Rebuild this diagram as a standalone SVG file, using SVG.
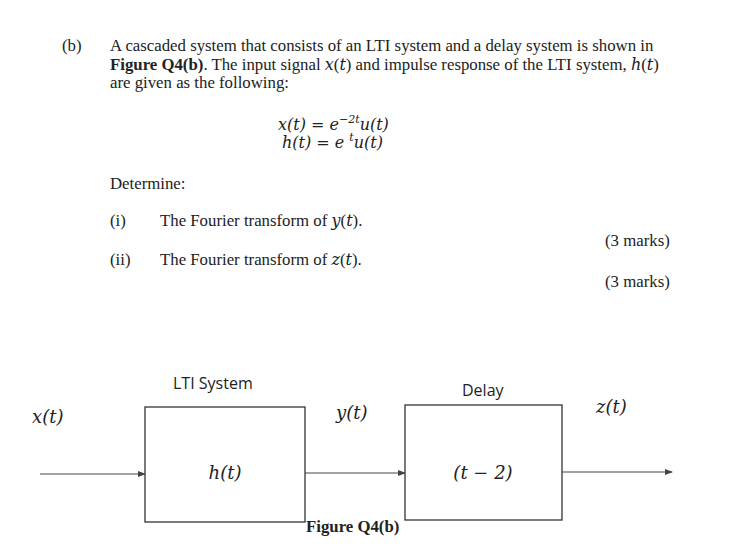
<svg xmlns="http://www.w3.org/2000/svg" width="738" height="560" viewBox="0 0 738 560">
<style>
.t{font-family:"Liberation Serif",serif;font-size:16.8px;fill:#222}
.b{font-weight:bold}
.m{font-family:"DejaVu Serif","Liberation Serif",serif;font-style:italic;font-size:16px;fill:#222}
.d{font-size:18px}
.c{font-family:"Open Sans","Liberation Sans",sans-serif;font-size:16px;fill:#222}
.box{fill:#fff;stroke:#333;stroke-width:1.3}
.ln{stroke:#444;stroke-width:1.2;fill:none;marker-end:url(#a)}
</style>
<defs><marker id="a" markerWidth="8" markerHeight="6" refX="7" refY="3" orient="auto" markerUnits="userSpaceOnUse"><path d="M0,0L8,3L0,6z" fill="#444"/></marker></defs>
<rect width="738" height="560" fill="#fff"/>
<text class="t" x="62" y="51">(b)</text>
<text class="t" x="110" y="51">A cascaded system that consists of an LTI system and a delay system is shown in</text>
<text class="t" x="110" y="70"><tspan class="b">Figure Q4(b)</tspan>. The input signal <tspan class="m">x</tspan>(<tspan class="m">t</tspan>) and impulse response of the LTI system, <tspan class="m">h</tspan>(<tspan class="m">t</tspan>)</text>
<text class="t" x="110" y="88">are given as the following:</text>
<text class="m" x="278" y="130">x(t) = e<tspan font-size="11" dy="-7">−2t</tspan><tspan dy="7">u(t)</tspan></text>
<text class="m" x="282" y="148">h(t) = e  <tspan font-size="11" dy="-7">t</tspan><tspan dy="7">u(t)</tspan></text>
<text class="t" x="110" y="189">Determine:</text>
<text class="t" x="110" y="226">(i)</text>
<text class="t" x="160" y="226">The Fourier transform of <tspan class="m">y</tspan>(<tspan class="m">t</tspan>).</text>
<text class="t" x="605" y="246">(3 marks)</text>
<text class="t" x="110" y="265">(ii)</text>
<text class="t" x="160" y="265">The Fourier transform of <tspan class="m">z</tspan>(<tspan class="m">t</tspan>).</text>
<text class="t" x="605" y="287">(3 marks)</text>
<g id="connectors">
<line class="ln" x1="40" y1="474" x2="145" y2="474"/>
<line class="ln" x1="305" y1="473" x2="405" y2="473"/>
<line class="ln" x1="562" y1="472" x2="672" y2="472"/>
</g>
<g id="x"><text class="m d" x="32" y="423">x(t)</text></g>
<g id="lti"><rect class="box" x="145" y="407" width="160" height="115"/><text class="c" x="173" y="389">LTI System</text><text class="m d" x="225" y="479" text-anchor="middle">h(t)</text></g>
<g id="y"><text class="m d" x="336" y="419">y(t)</text></g>
<g id="delay"><rect class="box" x="405" y="405" width="157" height="115"/><text class="c" x="462" y="396">Delay</text><text class="m d" x="483" y="479" text-anchor="middle">(t − 2)</text></g>
<g id="z"><text class="m d" x="596" y="413">z(t)</text></g>
<text class="t b" x="306" y="532">Figure Q4(b)</text>
</svg>
